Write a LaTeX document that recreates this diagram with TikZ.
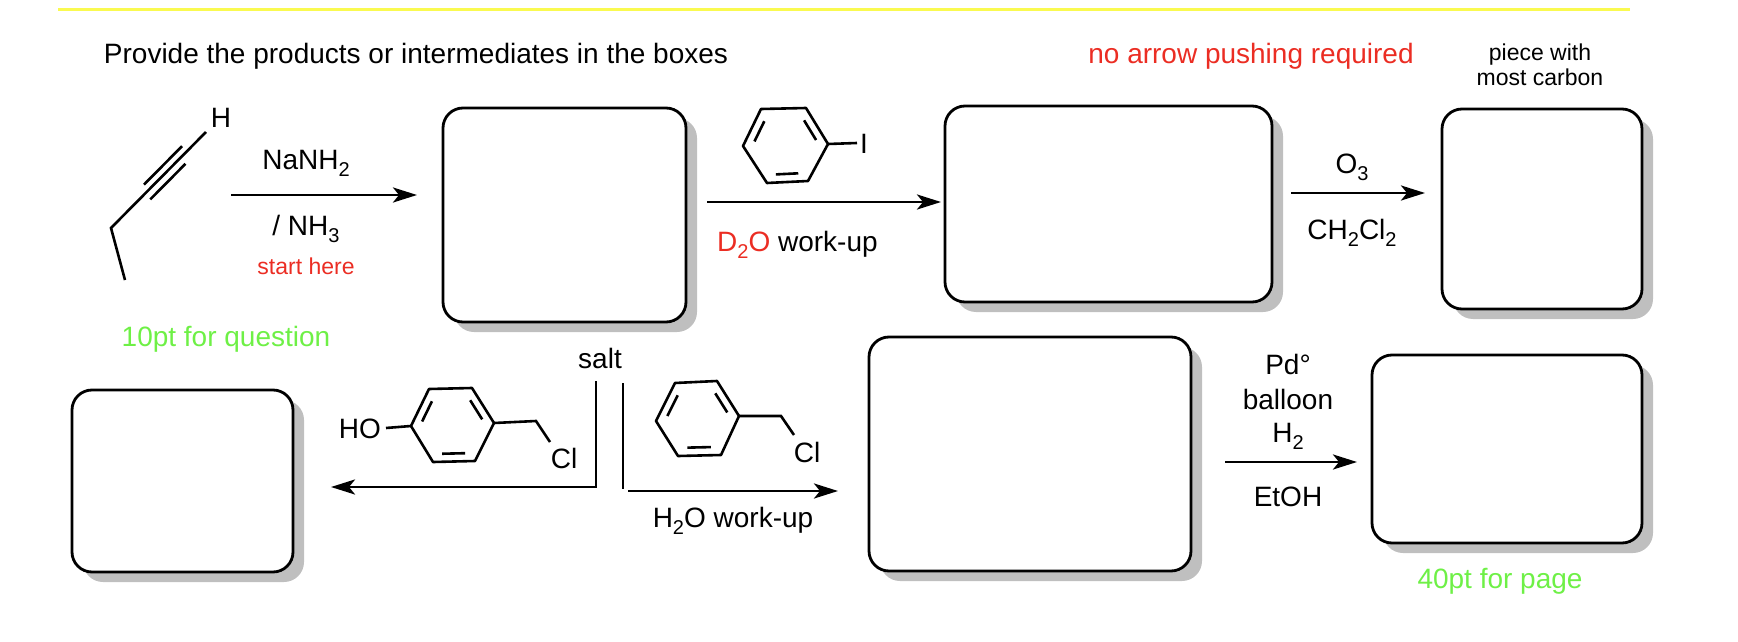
\documentclass[tikz,border=0pt]{standalone}
\usepackage{fontspec}
\setmainfont{Liberation Sans}
\usetikzlibrary{calc,shadows,arrows.meta}
\definecolor{myred}{RGB}{235,45,35}
\definecolor{mygreen}{RGB}{110,240,70}
\definecolor{myyellow}{RGB}{250,250,80}
\newcommand\sbs[1]{\raisebox{-0.28em}{\fontsize{20}{20}\selectfont #1}}
\tikzset{
  box/.style={draw,line width=2.8pt,rounded corners=20pt,fill=white,
    drop shadow={shadow xshift=11pt,shadow yshift=-10pt,fill=black!25,opacity=1}},
  lbl/.style={anchor=base,font=\fontsize{28}{30}\selectfont,inner sep=0pt},
  small/.style={anchor=base,font=\fontsize{23}{25}\selectfont,inner sep=0pt},
  bond/.style={line width=2.6pt},
  rxn/.style={line width=2.8pt,-{Stealth[length=24pt,width=15pt,inset=6pt]}},
}
\begin{document}
\begin{tikzpicture}[x=1pt,y=-1pt]
\useasboundingbox (0,0) rectangle (1738,642);
\draw[myyellow,line width=3pt] (58,10) -- (1630,10);
\node[lbl] (title) at (416,64) {Provide the products or intermediates in the boxes};
\node[lbl,text=myred] (noarrow) at (1251,64) {no arrow pushing required};
\node[small] (piece1) at (1540,60) {piece with};
\node[small] (piece2) at (1540,85) {most carbon};

% boxes
\node[box,minimum width=243pt,minimum height=214pt] (b1) at (564.5,215) {};
\node[box,minimum width=327pt,minimum height=196pt] (b2) at (1108.5,204) {};
\node[box,minimum width=200pt,minimum height=200pt] (b3) at (1542,209) {};
\node[box,minimum width=221pt,minimum height=182pt] (b4) at (182.5,481) {};
\node[box,minimum width=322pt,minimum height=234pt] (b5) at (1030,454) {};
\node[box,minimum width=270pt,minimum height=188pt] (b6) at (1507,449) {};

% alkyne
\coordinate (a1) at (206,132); \coordinate (a2) at (111,228); \coordinate (a3) at (125,280);
\node[lbl] (H) at (221,128) {H};
\draw[bond] (a1) -- (a2) -- (a3);
\draw[bond] ($(a1)!0.2!(a2)+(-5,-5)$) -- ($(a1)!0.6!(a2)+(-5,-5)$);
\draw[bond] ($(a1)!0.28!(a2)+(6,5)$) -- ($(a1)!0.65!(a2)+(6,5)$);

% arrow 1
\coordinate (r1s) at (231,195); \coordinate (r1e) at (417,195);
\draw[rxn] (r1s) -- (r1e);
\node[lbl] (nanh2) at (306,169) {NaNH\sbs{2}};
\node[lbl] (nh3) at (306,235) {/ NH\sbs{3}};
\node[small,text=myred] (start) at (306,274) {start here};
\node[lbl,text=mygreen] (q10) at (226,346) {10pt for question};

% iodobenzene
\coordinate (p1) at (761,109); \coordinate (p2) at (806,108); \coordinate (p3) at (828,144);
\coordinate (p4) at (808,181); \coordinate (p5) at (767,183); \coordinate (p6) at (743,146);
\coordinate (pc) at (785.5,145);
\draw[bond,line join=round] (p1)--(p2)--(p3)--(p4)--(p5)--(p6)--cycle;
\foreach \a/\b in {p1/p6,p2/p3,p4/p5}
  \draw[bond] ($(pc)!.78!($(\a)!.15!(\b)$)$) -- ($(pc)!.78!($(\a)!.85!(\b)$)$);
\node[lbl] (I) at (864,153) {I};
\draw[bond] (p3) -- (857,143);

% arrow 2
\coordinate (r2s) at (707,202); \coordinate (r2e) at (941,202);
\draw[rxn] (r2s) -- (r2e);
\node[lbl,anchor=base west] (d2o) at (717,251) {\textcolor{myred}{D\sbs{2}O} work-up};

% arrow 3
\coordinate (r3s) at (1291,193); \coordinate (r3e) at (1425,193);
\draw[rxn] (r3s) -- (r3e);
\node[lbl] (o3) at (1352,173) {O\sbs{3}};
\node[lbl] (dcm) at (1352,239) {CH\sbs{2}Cl\sbs{2}};

% salt split
\node[lbl] (salt) at (600,368) {salt};
\coordinate (sl1) at (596,381); \coordinate (sl2) at (596,487); \coordinate (sle) at (331,487);
\draw[line width=2.8pt,-{Stealth[length=24pt,width=15pt,inset=6pt]}] (sl1) -- (sl2) -- (sle);
\coordinate (sr1) at (623,383); \coordinate (sr2) at (623,489);
\draw[line width=2.8pt] (sr1) -- (sr2);
\coordinate (sr3) at (628,491); \coordinate (sre) at (838,491);
\draw[rxn] (sr3) -- (sre);
\node[lbl] (h2o) at (733,527) {H\sbs{2}O work-up};

% HO-benzyl chloride
\coordinate (h1) at (429,389); \coordinate (h2) at (472,388); \coordinate (h3) at (494,423);
\coordinate (h4) at (475,461); \coordinate (h5) at (433,462); \coordinate (h6) at (411,426);
\coordinate (hc) at (452,425);
\draw[bond,line join=round] (h1)--(h2)--(h3)--(h4)--(h5)--(h6)--cycle;
\foreach \a/\b in {h1/h6,h2/h3,h4/h5}
  \draw[bond] ($(hc)!.78!($(\a)!.15!(\b)$)$) -- ($(hc)!.78!($(\a)!.85!(\b)$)$);
\node[lbl,anchor=base east] (HO) at (381,438) {HO};
\draw[bond] (386,428) -- (h6);
\coordinate (hch) at (536,421);
\draw[bond] (h3) -- (hch) -- (550,442);
\node[lbl] (cl1) at (564,468) {Cl};

% benzyl chloride
\coordinate (k1) at (675,383); \coordinate (k2) at (717,381); \coordinate (k3) at (739,416);
\coordinate (k4) at (721,455); \coordinate (k5) at (678,456); \coordinate (k6) at (656,421);
\coordinate (kc) at (697.5,418.5);
\draw[bond,line join=round] (k1)--(k2)--(k3)--(k4)--(k5)--(k6)--cycle;
\foreach \a/\b in {k1/k6,k2/k3,k4/k5}
  \draw[bond] ($(kc)!.78!($(\a)!.15!(\b)$)$) -- ($(kc)!.78!($(\a)!.85!(\b)$)$);
\coordinate (kch) at (781,416);
\draw[bond] (k3) -- (kch) -- (794,435);
\node[lbl] (cl2) at (807,462) {Cl};

% Pd arrow
\coordinate (r4s) at (1225,462); \coordinate (r4e) at (1357,462);
\draw[rxn] (r4s) -- (r4e);
\node[lbl] (pd) at (1288,374) {Pd°};
\node[lbl] (balloon) at (1288,409) {balloon};
\node[lbl] (h2) at (1288,442) {H\sbs{2}};
\node[lbl] (etoh) at (1288,506) {EtOH};
\node[lbl,text=mygreen] (p40) at (1500,588) {40pt for page};
\end{tikzpicture}
\end{document}
